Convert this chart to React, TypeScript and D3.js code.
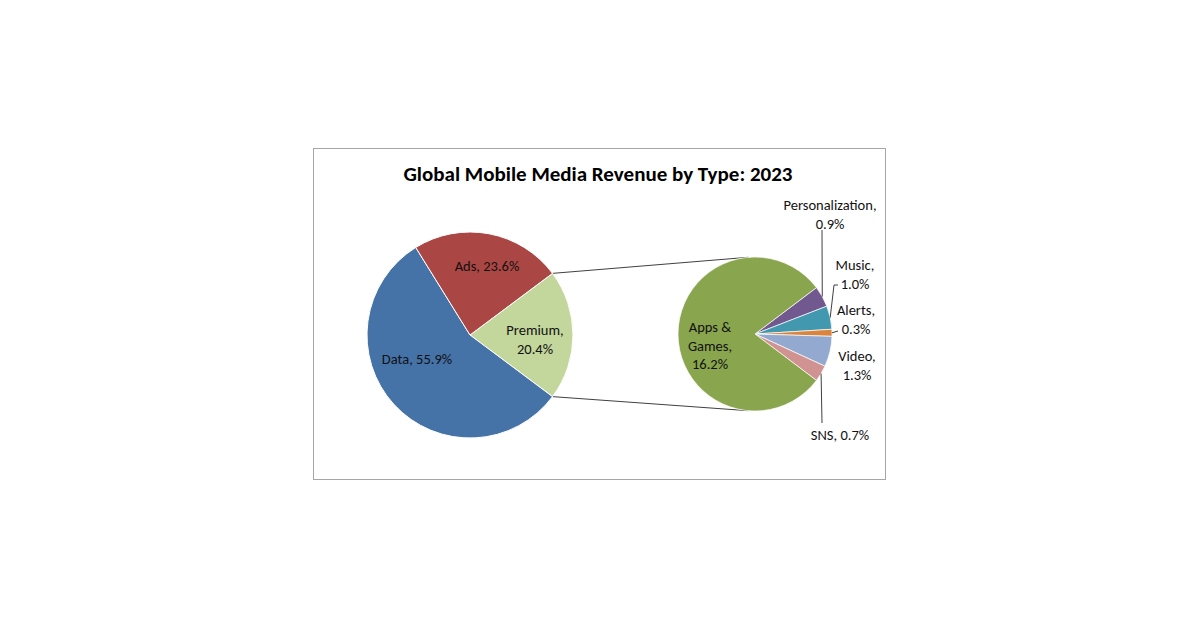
import React, { useEffect, useRef } from 'react';
import * as d3 from 'd3';

// main pie
const categories = ['Premium', 'Data', 'Ads'];
const values = [20.4, 55.9, 23.6];
// second pie (breakdown of Premium)
const subCategories = ['Personalization', 'Music', 'Alerts', 'Video', 'SNS', 'Apps & Games'];
const subValues = [0.9, 1.0, 0.3, 1.3, 0.7, 16.2];

const colors = ['#C3D69B', '#4572A7', '#AA4643'];
const subColors = ['#71588F', '#4198AF', '#DB843D', '#93A9CF', '#D19392', '#89A54E'];

const W = 1200;
const H = 627;
const FONT = 'Carlito, Lato, "Liberation Sans", sans-serif';

const App: React.FC = () => {
  const svgRef = useRef<SVGSVGElement>(null);

  useEffect(() => {
    if (!svgRef.current) return;
    const svg = d3.select(svgRef.current);
    svg.selectAll('*').remove();

    svg.append('rect').attr('width', W).attr('height', H).attr('fill', '#fff');

    // chart frame
    svg.append('rect')
      .attr('x', 313.5).attr('y', 148.5)
      .attr('width', 572).attr('height', 331)
      .attr('fill', '#fff')
      .attr('stroke', '#a6a6a6')
      .attr('stroke-width', 1);

    svg.append('text')
      .attr('x', 598).attr('y', 174)
      .attr('text-anchor', 'middle')
      .attr('dominant-baseline', 'central')
      .style('font-family', FONT)
      .style('font-size', '21px')
      .style('font-weight', 'bold')
      .style('fill', '#000')
      .text('Global Mobile Media Revenue by Type: 2023');

    const c1 = { x: 470, y: 335 };
    const r1 = 103;
    const c2 = { x: 755, y: 334 };
    const r2 = 77;

    const total = d3.sum(values);
    const otherShare = values[0] / total;
    const start1 = Math.PI / 2 - otherShare * Math.PI;
    const pie1 = d3.pie<number>().sort(null).startAngle(start1).endAngle(start1 + 2 * Math.PI);
    const arcs1 = pie1(values);

    const subTotal = d3.sum(subValues);
    const smallShare = d3.sum(subValues.slice(0, 5)) / subTotal;
    const start2 = Math.PI / 2 - smallShare * Math.PI;
    const pie2 = d3.pie<number>().sort(null).startAngle(start2).endAngle(start2 + 2 * Math.PI);
    const arcs2 = pie2(subValues);

    const arc1 = d3.arc<d3.PieArcDatum<number>>().innerRadius(0).outerRadius(r1);
    const arc2 = d3.arc<d3.PieArcDatum<number>>().innerRadius(0).outerRadius(r2);

    const polar = (c: { x: number; y: number }, r: number, a: number): [number, number] =>
      [c.x + r * Math.sin(a), c.y - r * Math.cos(a)];

    // connector lines between the pies
    const p = arcs1[0];
    const deg = Math.PI / 180;
    const connectors: [[number, number], [number, number]][] = [
      [polar(c1, r1, p.startAngle), polar(c2, r2, -5 * deg)],
      [polar(c1, r1, p.endAngle), polar(c2, r2, 185 * deg)],
    ];
    svg.selectAll('.conn')
      .data(connectors)
      .enter().append('line')
      .attr('x1', d => d[0][0]).attr('y1', d => d[0][1])
      .attr('x2', d => d[1][0]).attr('y2', d => d[1][1])
      .attr('stroke', '#404040')
      .attr('stroke-width', 1);

    const g1 = svg.append('g').attr('transform', `translate(${c1.x},${c1.y})`);
    g1.selectAll('path')
      .data(arcs1)
      .enter().append('path')
      .attr('d', arc1)
      .attr('fill', (_, i) => colors[i])
      .attr('stroke', '#fff')
      .attr('stroke-width', 1);

    const g2 = svg.append('g').attr('transform', `translate(${c2.x},${c2.y})`);
    g2.selectAll('path')
      .data(arcs2)
      .enter().append('path')
      .attr('d', arc2)
      .attr('fill', (_, i) => subColors[i])
      .attr('stroke', '#fff')
      .attr('stroke-width', 0.7);

    // label placement (offsets from pie centre, first line centre)
    const labelPos1 = [[65, -5], [-53, 24], [17, -69]];
    const lines1 = categories.map((c, i) =>
      c === 'Premium' ? [`${c},`, `${values[i].toFixed(1)}%`] : [`${c}, ${values[i].toFixed(1)}%`]);

    const labelPos2 = [[75, -129], [100, -69], [101, -24], [102, 22], [85, 101], [-45, -7]];
    const lines2 = subCategories.map((c, i) => {
      const v = `${subValues[i].toFixed(1)}%`;
      if (c === 'SNS') return [`${c}, ${v}`];
      if (c === 'Apps & Games') return ['Apps &', 'Games,', v];
      return [`${c},`, v];
    });

    // leader line bends (offsets from second pie centre)
    const leaders: (number[][] | null)[] = [
      [[67, -104]],
      [[79, -49], [83, -49]],
      [[83, -3]],
      null,
      [[67, 89]],
      null,
    ];
    arcs2.forEach((a, i) => {
      const pts = leaders[i];
      if (!pts) return;
      const mid = (a.startAngle + a.endAngle) / 2;
      const s = polar({ x: 0, y: 0 }, r2, mid);
      const path = d3.line()([s, ...pts.map(q => [q[0], q[1]] as [number, number])]);
      g2.append('path')
        .attr('d', path)
        .attr('fill', 'none')
        .attr('stroke', '#404040')
        .attr('stroke-width', 1);
    });

    const drawLabel = (g: d3.Selection<SVGGElement, unknown, null, undefined>, pos: number[], lines: string[], lh: number) => {
      const t = g.append('text')
        .attr('text-anchor', 'middle')
        .style('font-family', FONT)
        .style('font-size', '14.5px')
        .style('fill', '#111');
      lines.forEach((l, k) => {
        t.append('tspan')
          .attr('x', pos[0])
          .attr('y', pos[1] + k * lh)
          .attr('dominant-baseline', 'central')
          .text(l);
      });
    };

    lines1.forEach((l, i) => drawLabel(g1, labelPos1[i], l, 19));
    lines2.forEach((l, i) => drawLabel(g2, labelPos2[i], l, i === 5 ? 18.5 : 19));
  }, []);

  return (
    <svg
      ref={svgRef}
      width={W}
      height={H}
      style={{ position: 'absolute', left: 0, top: 0, display: 'block' }}
    />
  );
};

export default App;
